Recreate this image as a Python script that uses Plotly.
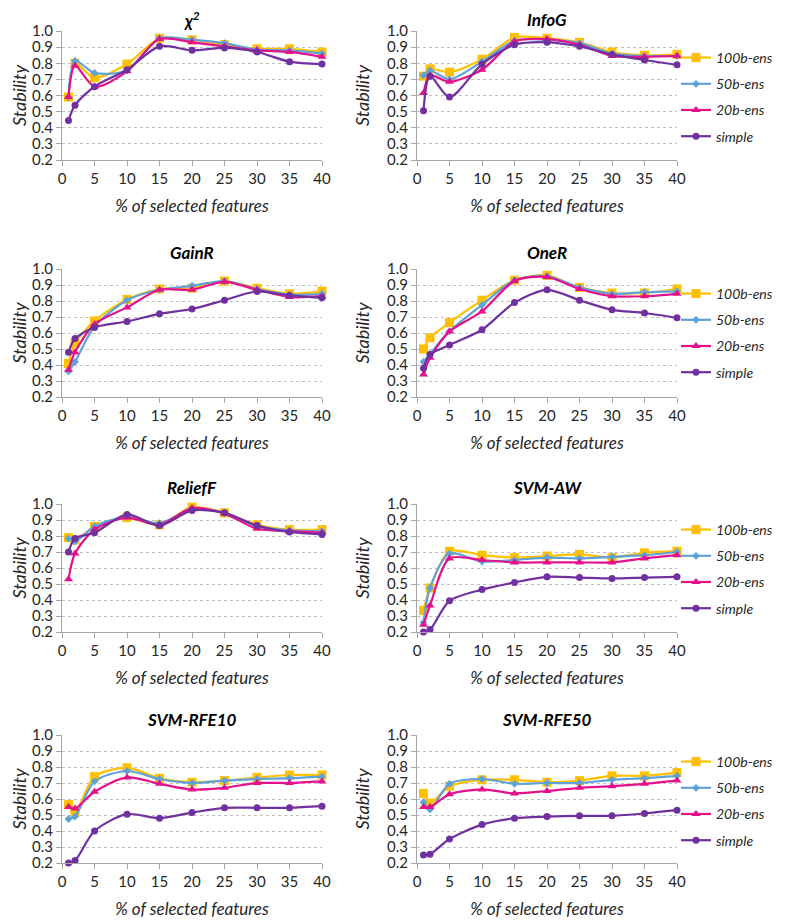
import plotly.graph_objects as go

# % of selected features
pct = [1, 2, 5, 10, 15, 20, 25, 30, 35, 40]

series_names = ["100b-ens", "50b-ens", "20b-ens", "simple"]
panel_titles = ["χ<sup>2</sup>", "InfoG", "GainR", "OneR",
                "ReliefF", "SVM-AW", "SVM-RFE10", "SVM-RFE50"]

chi2_100 = [0.59, 0.80, 0.71, 0.795, 0.955, 0.945, 0.915, 0.89, 0.89, 0.87]
chi2_50 = [0.59, 0.815, 0.74, 0.755, 0.955, 0.945, 0.925, 0.885, 0.88, 0.86]
chi2_20 = [0.59, 0.785, 0.655, 0.75, 0.95, 0.93, 0.905, 0.88, 0.87, 0.84]
chi2_simple = [0.445, 0.54, 0.655, 0.76, 0.905, 0.88, 0.895, 0.87, 0.81, 0.795]

infog_100 = [0.72, 0.765, 0.745, 0.825, 0.96, 0.955, 0.93, 0.87, 0.85, 0.855]
infog_50 = [0.725, 0.755, 0.70, 0.81, 0.94, 0.945, 0.925, 0.86, 0.845, 0.845]
infog_20 = [0.615, 0.725, 0.685, 0.76, 0.935, 0.95, 0.915, 0.845, 0.84, 0.845]
infog_simple = [0.505, 0.72, 0.59, 0.795, 0.915, 0.93, 0.905, 0.855, 0.82, 0.79]

gainr_100 = [0.41, 0.535, 0.675, 0.81, 0.875, 0.88, 0.925, 0.88, 0.845, 0.862]
gainr_50 = [0.36, 0.42, 0.64, 0.805, 0.87, 0.895, 0.925, 0.875, 0.84, 0.845]
gainr_20 = [0.37, 0.48, 0.655, 0.76, 0.87, 0.87, 0.92, 0.87, 0.825, 0.83]
gainr_simple = [0.48, 0.565, 0.635, 0.672, 0.72, 0.75, 0.805, 0.86, 0.835, 0.82]

oner_100 = [0.50, 0.57, 0.665, 0.805, 0.93, 0.96, 0.885, 0.85, 0.85, 0.875]
oner_50 = [0.42, 0.47, 0.61, 0.775, 0.93, 0.955, 0.885, 0.845, 0.855, 0.86]
oner_20 = [0.34, 0.445, 0.61, 0.735, 0.925, 0.95, 0.875, 0.83, 0.83, 0.845]
oner_simple = [0.38, 0.465, 0.525, 0.62, 0.79, 0.87, 0.805, 0.745, 0.725, 0.695]

relieff_100 = [0.79, 0.775, 0.86, 0.915, 0.87, 0.98, 0.945, 0.87, 0.84, 0.84]
relieff_50 = [0.785, 0.765, 0.86, 0.92, 0.88, 0.965, 0.945, 0.86, 0.835, 0.83]
relieff_20 = [0.53, 0.69, 0.84, 0.915, 0.87, 0.975, 0.94, 0.845, 0.83, 0.82]
relieff_simple = [0.70, 0.785, 0.82, 0.935, 0.865, 0.96, 0.945, 0.865, 0.825, 0.81]

svmaw_100 = [0.335, 0.475, 0.705, 0.68, 0.665, 0.675, 0.685, 0.665, 0.695, 0.705]
svmaw_50 = [0.26, 0.475, 0.69, 0.64, 0.65, 0.665, 0.66, 0.67, 0.68, 0.70]
svmaw_20 = [0.245, 0.365, 0.66, 0.65, 0.635, 0.635, 0.635, 0.635, 0.66, 0.68]
svmaw_simple = [0.20, 0.215, 0.395, 0.465, 0.51, 0.545, 0.54, 0.535, 0.54, 0.545]

rfe10_100 = [0.565, 0.515, 0.74, 0.795, 0.73, 0.705, 0.715, 0.735, 0.75, 0.75]
rfe10_50 = [0.475, 0.49, 0.71, 0.775, 0.725, 0.70, 0.715, 0.725, 0.73, 0.74]
rfe10_20 = [0.55, 0.54, 0.645, 0.735, 0.695, 0.66, 0.67, 0.70, 0.70, 0.71]
rfe10_simple = [0.20, 0.215, 0.40, 0.505, 0.48, 0.515, 0.545, 0.545, 0.545, 0.555]

rfe50_100 = [0.635, 0.575, 0.68, 0.72, 0.72, 0.705, 0.715, 0.745, 0.745, 0.765]
rfe50_50 = [0.58, 0.535, 0.695, 0.725, 0.695, 0.70, 0.70, 0.72, 0.73, 0.745]
rfe50_20 = [0.55, 0.55, 0.63, 0.66, 0.635, 0.65, 0.67, 0.68, 0.695, 0.715]
rfe50_simple = [0.25, 0.255, 0.35, 0.44, 0.48, 0.49, 0.495, 0.495, 0.51, 0.53]

panels = [
    [chi2_100, chi2_50, chi2_20, chi2_simple],
    [infog_100, infog_50, infog_20, infog_simple],
    [gainr_100, gainr_50, gainr_20, gainr_simple],
    [oner_100, oner_50, oner_20, oner_simple],
    [relieff_100, relieff_50, relieff_20, relieff_simple],
    [svmaw_100, svmaw_50, svmaw_20, svmaw_simple],
    [rfe10_100, rfe10_50, rfe10_20, rfe10_simple],
    [rfe50_100, rfe50_50, rfe50_20, rfe50_simple],
]

colors = ["#FFC000", "#5FA2DA", "#E3128C", "#7030A0"]
symbols = ["square", "diamond", "triangle-up", "circle"]
msizes = [9, 6, 8, 7]

# the page body adds an 8px margin, so the figure is drawn 8px smaller
# and every pixel position below is taken relative to that offset
OFF = 8
W, H = 785 - OFF, 922 - OFF
FONT = "Lato"

# plot areas in reference pixels (left, right) and (top, bottom)
cols_px = [(62, 322), (417, 677)]
rows_px = [(31, 160), (269, 397), (504, 632), (735, 863)]


def px_x(p):
    return (p - OFF) / W


def px_y(p):
    return 1 - (p - OFF) / H


fig = go.Figure()
for i, data in enumerate(panels):
    r, c = divmod(i, 2)
    n = i + 1
    xa = "x" if n == 1 else f"x{n}"
    ya = "y" if n == 1 else f"y{n}"
    leg = None
    if c == 1:
        leg = "legend" if r == 0 else f"legend{r + 1}"
    for k, vals in enumerate(data):
        fig.add_trace(go.Scatter(
            x=pct, y=vals, name=f"<i>{series_names[k]}</i>",
            mode="lines+markers",
            line=dict(color=colors[k], width=2.2, shape="spline", smoothing=0.8),
            marker=dict(symbol=symbols[k], size=msizes[k], color=colors[k]),
            xaxis=xa, yaxis=ya, cliponaxis=False,
            showlegend=leg is not None, legend=leg if leg else "legend",
            legendgroup=f"{i}-{k}",
        ))

    x0, x1 = cols_px[c]
    y0, y1 = rows_px[r]
    axis_common = dict(showline=True, linecolor="#A6A6A6", linewidth=1,
                       ticks="outside", tickcolor="#A6A6A6", ticklen=5,
                       tickfont=dict(family=FONT, size=15, color="#262626"),
                       zeroline=False, automargin=False)
    fig.layout[f"xaxis{n if n > 1 else ''}"] = dict(
        domain=[px_x(x0), px_x(x1)], anchor=ya, range=[0, 40], dtick=5,
        showgrid=False,
        title=dict(text="<i>% of selected features</i>", standoff=14,
                   font=dict(family=FONT, size=17, color="#262626")),
        **axis_common)
    fig.layout[f"yaxis{n if n > 1 else ''}"] = dict(
        domain=[px_y(y1), px_y(y0)], anchor=xa, range=[0.2, 1.0],
        dtick=0.1, tickformat=".1f", showgrid=True, gridcolor="#BFBFBF",
        griddash="dot", gridwidth=1,
        title=dict(text="<i>Stability</i>", standoff=12,
                   font=dict(family=FONT, size=18, color="#262626")),
        **axis_common)
    # top-row titles sit a little lower so they are not clipped by the page edge
    title_y = y0 - 16 if r > 0 else y0 - 12
    fig.add_annotation(
        text=f"<b><i>{panel_titles[i]}</i></b>", showarrow=False,
        x=px_x((x0 + x1) / 2), y=px_y(title_y), xref="paper", yref="paper",
        xanchor="center", yanchor="middle",
        font=dict(family=FONT, size=17, color="#000000"))

legend_tops = [42, 278, 514, 746]
for r, top in enumerate(legend_tops):
    name = "legend" if r == 0 else f"legend{r + 1}"
    fig.layout[name] = dict(
        x=px_x(676), y=px_y(top), xanchor="left", yanchor="top",
        traceorder="grouped", tracegroupgap=5, itemwidth=30,
        font=dict(family=FONT, size=14, color="#262626"),
        bgcolor="rgba(0,0,0,0)")

fig.update_layout(width=W, height=H, margin=dict(l=0, r=0, t=0, b=0),
                  plot_bgcolor="white", paper_bgcolor="white",
                  font=dict(family=FONT))

fig.write_html("out.html")
